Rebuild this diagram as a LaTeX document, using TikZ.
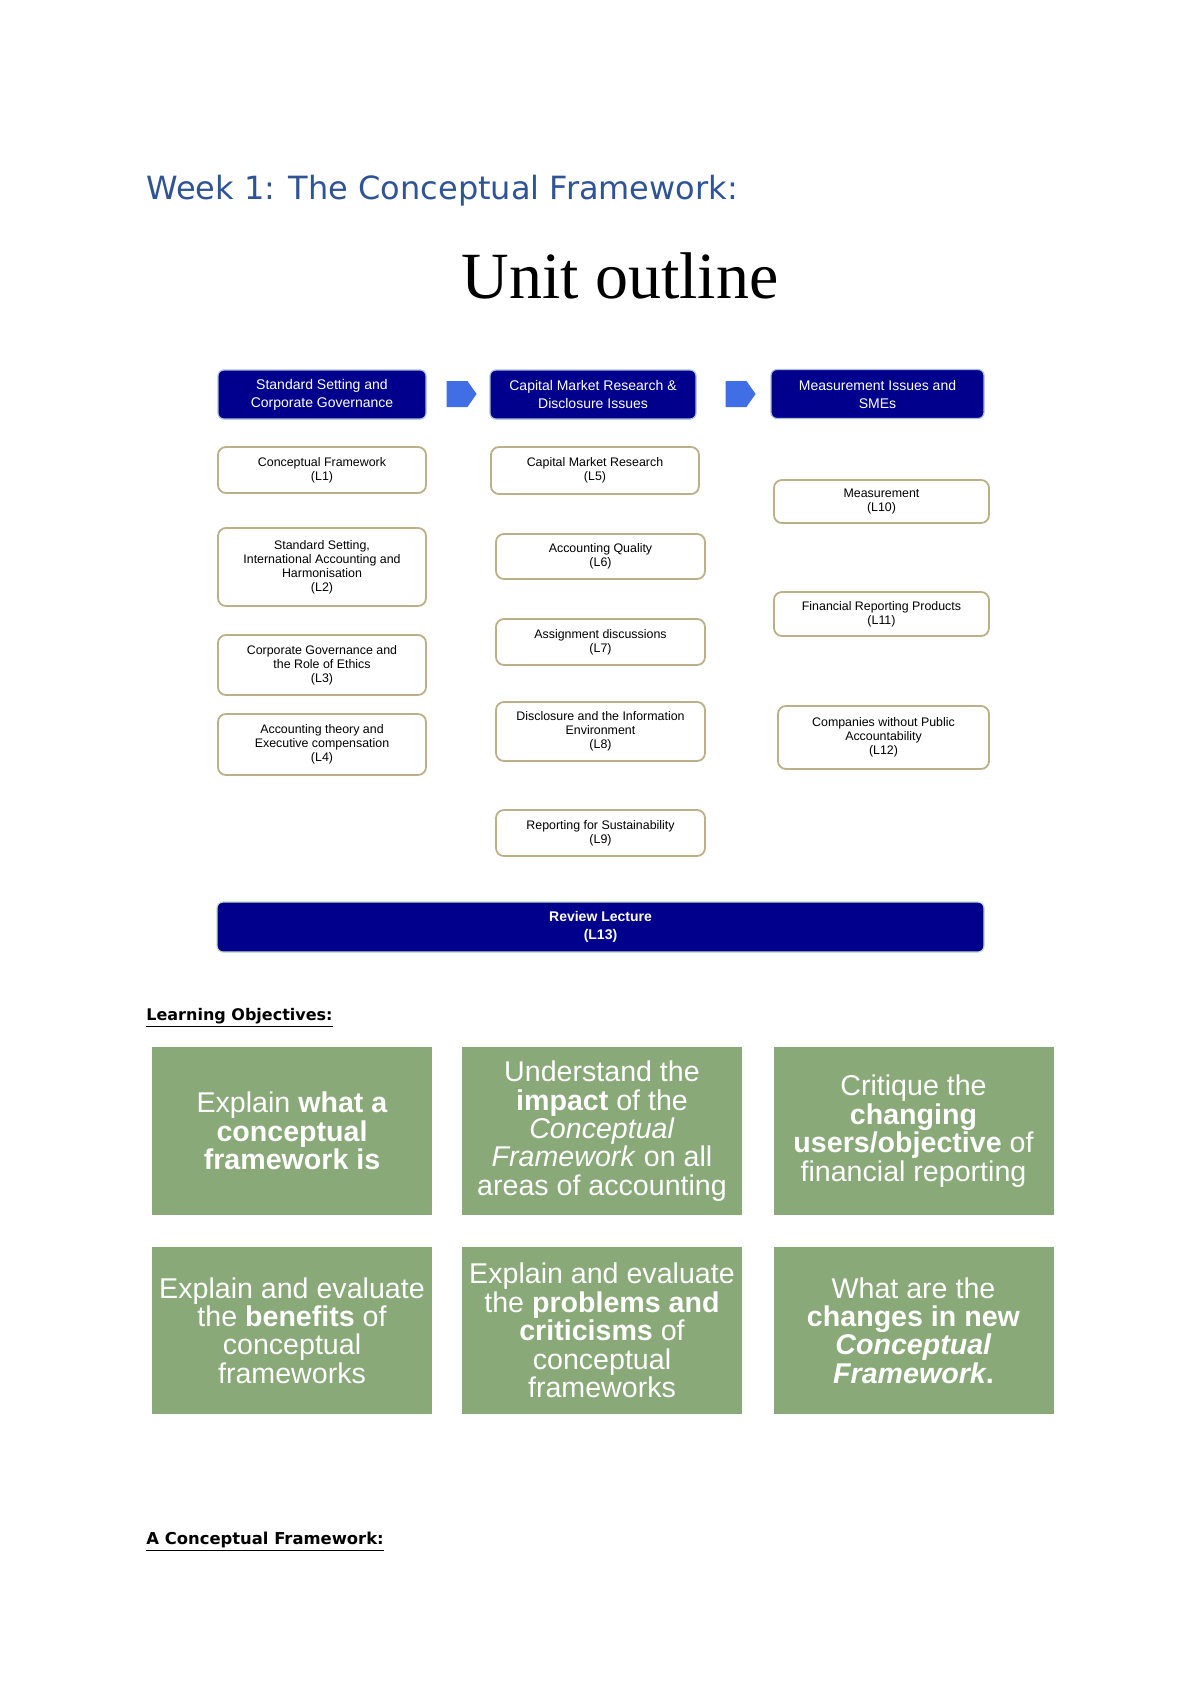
\documentclass[tikz,border=0pt]{standalone}
\usepackage{fontspec}
\setmainfont{Liberation Sans}
\newfontfamily\dejavu{DejaVu Sans}
\newfontfamily\serifu{Liberation Serif}
\usetikzlibrary{shapes.symbols}
\definecolor{hdrblue}{RGB}{0,0,140}
\definecolor{hdrborder}{RGB}{170,190,215}
\definecolor{revborder}{RGB}{190,220,190}
\definecolor{tanline}{RGB}{188,176,136}
\definecolor{objgreen}{RGB}{138,169,121}
\definecolor{arrblue}{RGB}{64,110,228}
\definecolor{titleblue}{RGB}{47,84,150}
\tikzset{
  hdr/.style={rectangle, rounded corners=3pt, fill=hdrblue, draw=hdrborder, line width=0.6pt,
    text=white, align=center, font=\fontsize{7}{9}\selectfont, inner sep=0pt},
  lec/.style={rectangle, rounded corners=4pt, fill=white, draw=tanline, line width=0.9pt,
    align=center, font=\fontsize{6.2}{7}\selectfont, inner sep=0pt},
  obj/.style={rectangle, fill=objgreen, text=white, align=center,
    font=\fontsize{14.3}{14.2}\selectfont, inner sep=0pt, minimum width=140pt},
  arr/.style={signal, signal to=east, signal pointer angle=110, fill=arrblue, draw=none,
    inner sep=0pt, minimum width=15pt, minimum height=13pt},
  lbl/.style={anchor=west, inner sep=0pt},
}
\begin{document}
\begin{tikzpicture}[x=0.5pt,y=-0.5pt]
\fill[white] (0,0) rectangle (1200,1698);
\useasboundingbox (0,0) rectangle (1200,1698);

% titles
\node[lbl, text=titleblue, font=\dejavu\fontsize{16}{19}\selectfont] (title) at (146,191) {Week 1: The Conceptual Framework:};
\node[inner sep=0pt, font=\serifu\fontsize{33}{38}\selectfont] (unit) at (620,276) {Unit outline};

% header row
\node[hdr, minimum width=104pt, minimum height=24.5pt] (h1) at (322,394.5) {Standard Setting and\\Corporate Governance};
\node[arr] (a1) at (457,394) {};
\node[hdr, minimum width=103pt, minimum height=24.5pt] (h2) at (593,394.5) {Capital Market Research \&\\Disclosure Issues};
\node[arr] (a2) at (736,394) {};
\node[hdr, minimum width=106.5pt, minimum height=24.5pt] (h3) at (877.5,394) {Measurement Issues and\\SMEs};

% left column
\node[lec, minimum width=104pt, minimum height=23pt] (l1) at (322,470) {Conceptual Framework\\(L1)};
\node[lec, minimum width=104pt, minimum height=39pt] (l2) at (322,567) {Standard Setting,\\International Accounting and\\Harmonisation\\(L2)};
\node[lec, minimum width=104pt, minimum height=30pt] (l3) at (322,665) {Corporate Governance and\\the Role of Ethics\\(L3)};
\node[lec, minimum width=104pt, minimum height=30.5pt] (l4) at (322,744.5) {Accounting theory and\\Executive compensation\\(L4)};

% middle column
\node[lec, minimum width=104pt, minimum height=23.5pt] (l5) at (595,470.5) {Capital Market Research\\(L5)};
\node[lec, minimum width=104.5pt, minimum height=22.5pt] (l6) at (600.5,556.5) {Accounting Quality\\(L6)};
\node[lec, minimum width=104.5pt, minimum height=23pt] (l7) at (600.5,642) {Assignment discussions\\(L7)};
\node[lec, minimum width=104.5pt, minimum height=29.5pt] (l8) at (600.5,731.5) {Disclosure and the Information\\Environment\\(L8)};
\node[lec, minimum width=104.5pt, minimum height=23pt] (l9) at (600.5,833) {Reporting for Sustainability\\(L9)};

% right column
\node[lec, minimum width=107.5pt, minimum height=21.5pt] (l10) at (881.5,501.5) {Measurement\\(L10)};
\node[lec, minimum width=107.5pt, minimum height=22pt] (l11) at (881.5,614) {Financial Reporting Products\\(L11)};
\node[lec, minimum width=105.5pt, minimum height=31.5pt] (l12) at (883.5,737.5) {Companies without Public\\Accountability\\(L12)};

% review
\node[hdr, draw=revborder, font=\bfseries\fontsize{7}{9}\selectfont, minimum width=383.5pt, minimum height=25pt] (rev) at (600.5,927) {Review Lecture\\(L13)};

% learning objectives
\node[lbl, font=\dejavu\bfseries\fontsize{8}{10}\selectfont] (lo) at (146,1018) {\underline{Learning Objectives:}};

\node[obj, minimum height=84pt] (o1) at (292,1131) {Explain \textbf{what a}\\\textbf{conceptual}\\\textbf{framework is}};
\node[obj, minimum height=84pt] (o2) at (602,1131) {Understand the\\\textbf{impact} of the\\\textit{Conceptual}\\\textit{Framework} on all\\areas of accounting};
\node[obj, minimum height=84pt] (o3) at (913.5,1131) {Critique the\\\textbf{changing}\\\textbf{users/objective} of\\financial reporting};
\node[obj, minimum height=83.5pt] (o4) at (292,1330.5) {Explain and evaluate\\the \textbf{benefits} of\\conceptual\\frameworks};
\node[obj, minimum height=83.5pt] (o5) at (602,1330.5) {Explain and evaluate\\the \textbf{problems and}\\\textbf{criticisms} of\\conceptual\\frameworks};
\node[obj, minimum height=83.5pt] (o6) at (913.5,1330.5) {What are the\\\textbf{changes in new}\\\textbf{\textit{Conceptual}}\\\textbf{\textit{Framework}.}};

\node[lbl, font=\dejavu\bfseries\fontsize{8.2}{10}\selectfont] (acf) at (146,1542) {\underline{A Conceptual Framework:}};
\end{tikzpicture}
\end{document}
